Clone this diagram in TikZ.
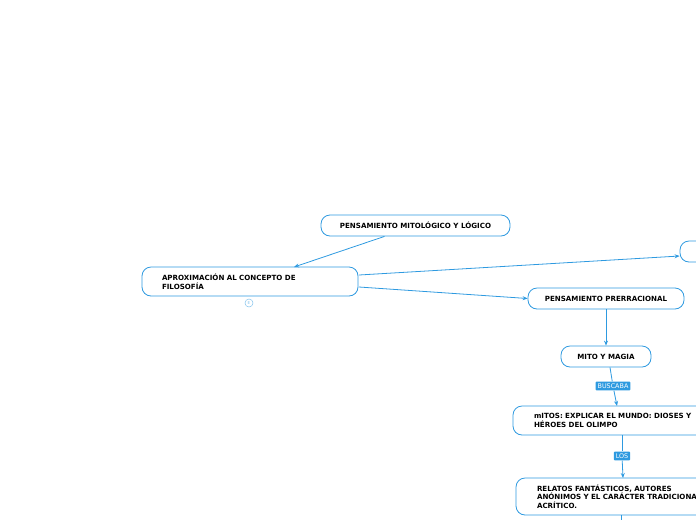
\documentclass[tikz,border=0pt]{standalone}
\usepackage{fontspec}
\setmainfont{DejaVu Sans}
\usetikzlibrary{arrows.meta}
\begin{document}
\begin{tikzpicture}[x=1pt,y=-1pt,
  box/.style={draw=bl,line width=0.8pt,rounded corners=9pt,fill=white,inner sep=0pt,font=\bfseries\fontsize{7.1}{8.6}\selectfont,align=left},
  lab/.style={fill=bl,text=white,inner sep=2pt,rounded corners=1pt,font=\fontsize{6.4}{7}\selectfont},
  con/.style={draw=bl,line width=0.8pt,-{Stealth[length=5pt,width=4pt]}}]
\definecolor{bl}{HTML}{2E9AE0}
\useasboundingbox (0,0) rectangle (696,520);
\clip (0,0) rectangle (696,520);
\node[box,minimum width=189pt,minimum height=21pt,align=center] (pml) at (415.5,225.5) {PENSAMIENTO MITOLÓGICO Y LÓGICO};
\node[box,minimum width=216pt,minimum height=29pt,text width=176pt] (apx) at (250,281.5) {APROXIMACIÓN AL CONCEPTO DE\\FILOSOFÍA};
\node[box,minimum width=60pt,minimum height=21pt] (rt) at (710,251.5) {};
\node[box,minimum width=156pt,minimum height=21pt,align=center] (pre) at (606,298.5) {PENSAMIENTO PRERRACIONAL};
\node[box,minimum width=90pt,minimum height=21pt,align=center] (mm) at (606,356.5) {MITO Y MAGIA};
\node[box,minimum width=230pt,minimum height=29pt,text width=188pt] (mit) at (628,420.5) {mITOS: EXPLICAR EL MUNDO: DIOSES Y\\HÉROES DEL OLIMPO};
\node[box,minimum width=230pt,minimum height=37pt,text width=188pt] (rel) at (631,496.5) {RELATOS FANTÁSTICOS, AUTORES\\ANÓNIMOS Y EL CARÁCTER TRADICIONAL\\ACRÍTICO.};
\node[draw=bl!60,circle,line width=0.5pt,inner sep=0pt,minimum size=8pt,text=bl!60,font=\fontsize{4}{4}\selectfont] (c) at (249,303) {E};
\coordinate (e) at (621,520);
\draw[con] (pml.south) ++(-31,0) coordinate (p1) -- (294,267);
\draw[con] (359,275) -- (rt.west |- 0,256);
\draw[con] (359,287) -- (pre.west);
\draw[con] (pre.south) -- (mm.north);
\node[lab] (b) at (613,386) {BUSCABA};
\draw[draw=bl,line width=0.8pt] (mm.south) ++(4,0) -- (b);
\draw[con] (b) -- (617,406);
\node[lab] (l) at (622,456) {LOS};
\draw[draw=bl,line width=0.8pt] (622,435) -- (l);
\draw[con] (l) -- (623,478);
\draw[draw=bl,line width=0.8pt] (rel.south -| e) -- (e);
\end{tikzpicture}
\end{document}
